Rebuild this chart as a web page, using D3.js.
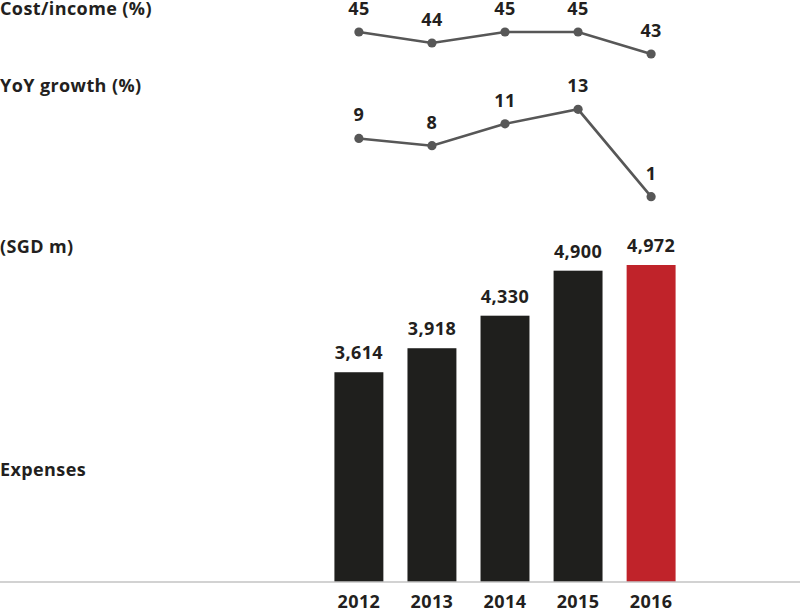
<!DOCTYPE html>
<html>
<head>
<meta charset="utf-8">
<script src="https://cdn.jsdelivr.net/npm/d3@7"></script>
<style>
  body { margin: 0; background: #fff; }
  text { font-family: "Open Sans", sans-serif; font-weight: bold; fill: #231f20; letter-spacing: 0.4px; }
</style>
</head>
<body>
<div id="chart"></div>
<script>
const years = ['2012', '2013', '2014', '2015', '2016'];
const expenses = [3614, 3918, 4330, 4900, 4972];
const costIncome = [45, 44, 45, 45, 43];
const yoyGrowth = [9, 8, 11, 13, 1];
const rowTitles = ['Cost/income (%)', 'YoY growth (%)', '(SGD m)', 'Expenses'];

const width = 800;
const height = 610;
const fontSize = 18;

const svg = d3.select('#chart')
  .append('svg')
  .attr('width', width)
  .attr('height', height);

// bands for the five years, shared by bars and both lines
const x = d3.scaleBand()
  .domain(years)
  .range([322, 688])
  .paddingInner(0.33)
  .paddingOuter(0.17);

// bar scale does not start at zero in the original
const yBar = d3.scaleLinear()
  .domain([964, 4972])
  .range([581.5, 265]);

const yCost = d3.scaleLinear()
  .domain([43, 45])
  .range([54, 32]);

const yGrowth = d3.scaleLinear()
  .domain([1, 13])
  .range([196.7, 109.3]);

// row titles on the left
const titleY = [15, 92, 253, 476];
svg.append('g')
  .selectAll('text')
  .data(rowTitles)
  .join('text')
  .attr('x', 0)
  .attr('y', (d, i) => titleY[i])
  .attr('font-size', fontSize)
  .text((d) => d);

// bars
svg.append('g')
  .selectAll('rect')
  .data(expenses)
  .join('rect')
  .attr('x', (d, i) => x(years[i]))
  .attr('y', (d) => yBar(d))
  .attr('width', x.bandwidth())
  .attr('height', (d) => yBar.range()[0] - yBar(d))
  .attr('fill', (d, i) => (i === years.length - 1 ? '#c0232a' : '#1f1f1d'));

svg.append('g')
  .selectAll('text')
  .data(expenses)
  .join('text')
  .attr('x', (d, i) => x(years[i]) + x.bandwidth() / 2)
  .attr('y', (d) => yBar(d) - 13)
  .attr('text-anchor', 'middle')
  .attr('font-size', fontSize)
  .text((d) => d3.format(',')(d));

// baseline and year labels
svg.append('line')
  .attr('x1', 0)
  .attr('x2', width)
  .attr('y1', yBar.range()[0] + 0.5)
  .attr('y2', yBar.range()[0] + 0.5)
  .attr('stroke', '#a6a6a6')
  .attr('stroke-width', 1.2);

svg.append('g')
  .selectAll('text')
  .data(years)
  .join('text')
  .attr('x', (d) => x(d) + x.bandwidth() / 2)
  .attr('y', 608)
  .attr('text-anchor', 'middle')
  .attr('font-size', fontSize)
  .text((d) => d);

// the two small line series
function drawLine(values, y) {
  const g = svg.append('g');
  const cx = (d, i) => x(years[i]) + x.bandwidth() / 2;
  g.append('path')
    .datum(values)
    .attr('fill', 'none')
    .attr('stroke', '#575757')
    .attr('stroke-width', 2.6)
    .attr('d', d3.line().x(cx).y((d) => y(d)));
  g.selectAll('circle')
    .data(values)
    .join('circle')
    .attr('cx', cx)
    .attr('cy', (d) => y(d))
    .attr('r', 4.6)
    .attr('fill', '#575757');
  g.selectAll('text')
    .data(values)
    .join('text')
    .attr('x', cx)
    .attr('y', (d) => y(d) - 17)
    .attr('text-anchor', 'middle')
    .attr('font-size', fontSize)
    .text((d) => d);
}

drawLine(costIncome, yCost);
drawLine(yoyGrowth, yGrowth);
</script>
</body>
</html>
